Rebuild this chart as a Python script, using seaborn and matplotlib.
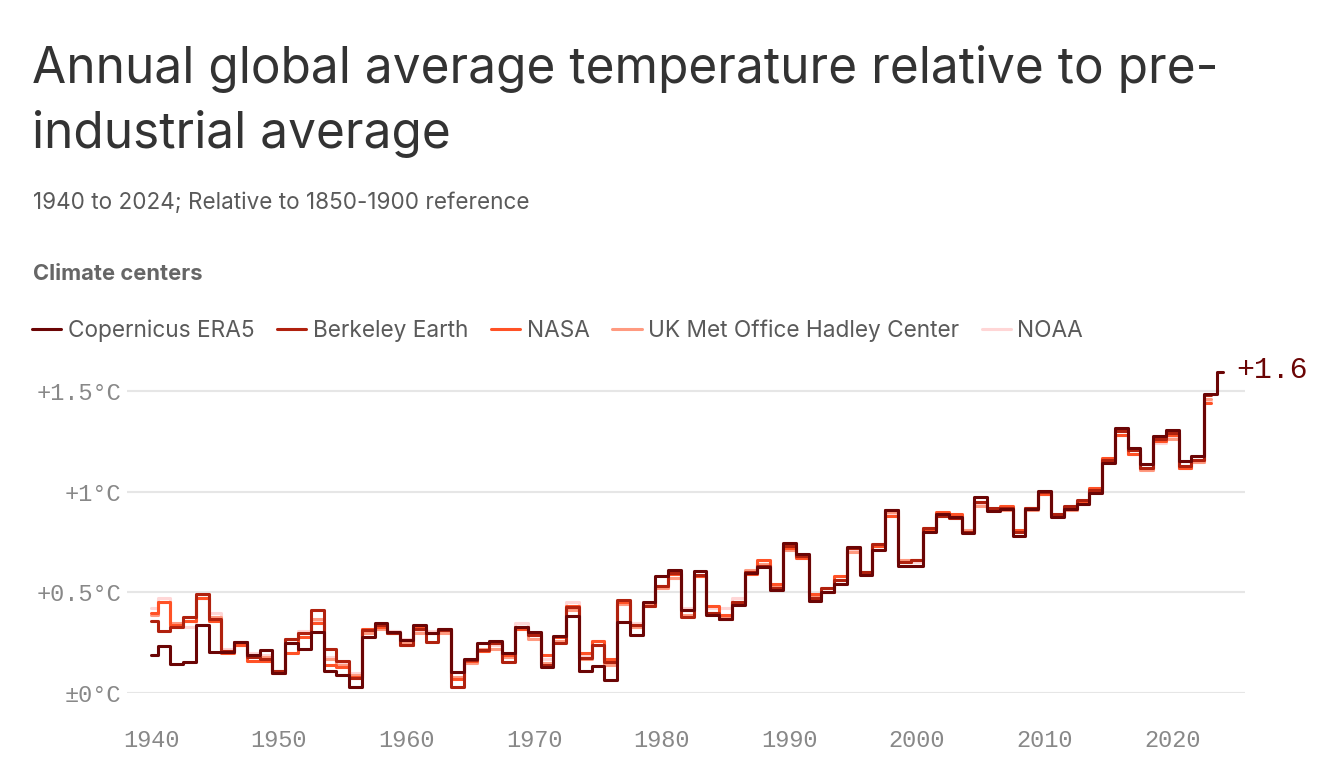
import pandas as pd
import numpy as np
import matplotlib
matplotlib.use("Agg")
import matplotlib.pyplot as plt
from matplotlib.lines import Line2D
import seaborn as sns

# ---- data (°C above 1850-1900 average) ----
years = list(range(1940, 2025))

era5 = [0.19, 0.235, 0.143, 0.153, 0.34, 0.205, 0.205, 0.255, 0.19, 0.214,
        0.10, 0.25, 0.22, 0.305, 0.11, 0.09, 0.028, 0.28, 0.346, 0.305,
        0.263, 0.34, 0.296, 0.318, 0.106, 0.169, 0.247, 0.258, 0.197, 0.326,
        0.305, 0.131, 0.283, 0.384, 0.111, 0.134, 0.065, 0.354, 0.29, 0.45,
        0.58, 0.61, 0.41, 0.607, 0.387, 0.37, 0.437, 0.595, 0.627, 0.51,
        0.743, 0.69, 0.459, 0.503, 0.54, 0.727, 0.586, 0.71, 0.909, 0.631,
        0.631, 0.80, 0.889, 0.873, 0.793, 0.972, 0.906, 0.913, 0.78, 0.913,
        1.005, 0.876, 0.913, 0.939, 0.992, 1.141, 1.315, 1.22, 1.138, 1.277,
        1.306, 1.154, 1.177, 1.484, 1.596]

berkeley = [0.36, 0.31, 0.326, 0.38, 0.49, 0.37, 0.21, 0.255, 0.18, 0.17,
            0.107, 0.27, 0.30, 0.41, 0.22, 0.159, 0.073, 0.313, 0.338, 0.296,
            0.238, 0.32, 0.255, 0.313, 0.03, 0.164, 0.214, 0.247, 0.156, 0.33,
            0.288, 0.139, 0.25, 0.426, 0.172, 0.238, 0.156, 0.462, 0.338, 0.43,
            0.53, 0.595, 0.38, 0.586, 0.396, 0.37, 0.45, 0.60, 0.63, 0.52,
            0.73, 0.68, 0.47, 0.52, 0.56, 0.72, 0.60, 0.74, 0.91, 0.65,
            0.66, 0.82, 0.88, 0.87, 0.80, 0.95, 0.92, 0.92, 0.80, 0.92,
            1.00, 0.89, 0.93, 0.96, 1.01, 1.16, 1.30, 1.21, 1.12, 1.26,
            1.29, 1.13, 1.16, 1.48]

nasa = [0.40, 0.45, 0.34, 0.36, 0.47, 0.36, 0.20, 0.24, 0.16, 0.16,
        0.10, 0.20, 0.28, 0.35, 0.14, 0.13, 0.08, 0.32, 0.33, 0.30,
        0.24, 0.33, 0.30, 0.32, 0.07, 0.16, 0.21, 0.25, 0.19, 0.32,
        0.30, 0.19, 0.28, 0.43, 0.20, 0.26, 0.17, 0.45, 0.34, 0.43,
        0.53, 0.59, 0.41, 0.58, 0.43, 0.39, 0.45, 0.59, 0.66, 0.54,
        0.72, 0.67, 0.49, 0.50, 0.58, 0.72, 0.60, 0.73, 0.88, 0.65,
        0.66, 0.81, 0.90, 0.89, 0.80, 0.95, 0.91, 0.93, 0.81, 0.92,
        0.99, 0.88, 0.92, 0.95, 1.02, 1.17, 1.28, 1.19, 1.12, 1.25,
        1.28, 1.12, 1.16, 1.44]

hadley = [0.39, 0.45, 0.35, 0.36, 0.47, 0.38, 0.21, 0.24, 0.19, 0.18,
          0.11, 0.27, 0.30, 0.37, 0.17, 0.14, 0.09, 0.30, 0.32, 0.30,
          0.25, 0.30, 0.30, 0.30, 0.08, 0.15, 0.22, 0.22, 0.18, 0.32,
          0.27, 0.15, 0.26, 0.41, 0.17, 0.24, 0.14, 0.44, 0.33, 0.44,
          0.52, 0.57, 0.39, 0.58, 0.40, 0.38, 0.45, 0.61, 0.64, 0.53,
          0.71, 0.68, 0.48, 0.50, 0.56, 0.70, 0.59, 0.73, 0.90, 0.66,
          0.66, 0.82, 0.88, 0.88, 0.81, 0.93, 0.91, 0.91, 0.80, 0.91,
          0.99, 0.88, 0.91, 0.94, 1.00, 1.16, 1.28, 1.19, 1.11, 1.25,
          1.26, 1.12, 1.15, 1.46]

noaa = [0.42, 0.47, 0.34, 0.33, 0.47, 0.40, 0.22, 0.24, 0.20, 0.19,
        0.11, 0.25, 0.31, 0.36, 0.18, 0.15, 0.10, 0.32, 0.32, 0.31,
        0.27, 0.31, 0.31, 0.31, 0.08, 0.15, 0.21, 0.24, 0.18, 0.35,
        0.29, 0.17, 0.26, 0.45, 0.19, 0.26, 0.16, 0.44, 0.35, 0.44,
        0.52, 0.57, 0.42, 0.58, 0.42, 0.42, 0.47, 0.59, 0.64, 0.54,
        0.71, 0.67, 0.48, 0.52, 0.56, 0.71, 0.59, 0.74, 0.89, 0.66,
        0.65, 0.82, 0.88, 0.88, 0.81, 0.94, 0.91, 0.91, 0.80, 0.92,
        0.99, 0.88, 0.91, 0.95, 1.00, 1.15, 1.28, 1.19, 1.11, 1.24,
        1.27, 1.12, 1.15, 1.45]

series_names = ["Copernicus ERA5", "Berkeley Earth", "NASA",
                "UK Met Office Hadley Center", "NOAA"]
series_values = [era5, berkeley, nasa, hadley, noaa]
series_colors = ["#6b0505", "#b0210e", "#ff5226", "#ff9a80", "#ffd6d6"]

ytick_vals = [0, 0.5, 1, 1.5]
ytick_labels = ["±0°C", "+0.5°C", "+1°C", "+1.5°C"]
xtick_vals = list(range(1940, 2030, 10))

# long table for seaborn
frames = []
for name, vals in zip(series_names, series_values):
    frames.append(pd.DataFrame({"year": years[:len(vals)], "temp": vals, "center": name}))
df = pd.concat(frames, ignore_index=True)

# ---- figure ----
sns.set_theme(style="white")
plt.rcParams["font.family"] = ["Inter", "DejaVu Sans"]

fig = plt.figure(figsize=(13.44, 7.84), dpi=100)
ax = fig.add_axes([127 / 1344, 1 - 693 / 784, (1245 - 127) / 1344, 0.4158])

# draw lightest first so ERA5 sits on top
for name, color in list(zip(series_names, series_colors))[::-1]:
    sub = df[df["center"] == name]
    sns.lineplot(data=sub, x="year", y="temp", ax=ax, color=color,
                 linewidth=2.2, drawstyle="steps-mid", legend=False,
                 errorbar=None, clip_on=False)

ax.set_xlim(1938.1, 2025.7)
ax.set_ylim(0, 1.62)
ax.set_xlabel("")
ax.set_ylabel("")

mono = "Liberation Mono"
ax.set_yticks(ytick_vals)
ax.set_yticklabels(ytick_labels, fontfamily=mono, fontsize=17, color="#888888")
ax.set_xticks(xtick_vals)
ax.set_xticklabels([str(v) for v in xtick_vals], fontfamily=mono, fontsize=17, color="#888888")
ax.tick_params(axis="y", length=0, pad=4)
ax.tick_params(axis="x", length=19, width=1.5, color="#e2e2e2", pad=7)

ax.grid(axis="y", color="#e6e6e6", linewidth=1.5)
ax.grid(axis="x", visible=False)
for s in ax.spines.values():
    s.set_visible(False)
ax.set_axisbelow(True)

# end label
ax.annotate("+1.6", xy=(years[-1], era5[-1]), xytext=(9, 1),
            textcoords="offset points", fontfamily=mono, fontsize=21.5,
            color=series_colors[0], va="center", ha="left", annotation_clip=False)

# ---- header texts ----
fig.text(32 / 1344, 1 - 45 / 784,
         "Annual global average temperature relative to pre-\nindustrial average",
         fontsize=35.7, color="#333333", va="top", ha="left", linespacing=1.45)
fig.text(33 / 1344, 1 - 203 / 784, "1940 to 2024; Relative to 1850-1900 reference",
         fontsize=16.2, color="#5a5a5a", va="center", ha="left")
fig.text(33 / 1344, 1 - 274 / 784, "Climate centers", fontsize=15.8,
         fontweight="bold", color="#666666", va="center", ha="left")

handles = [Line2D([0], [0], color=c, linewidth=2.2) for c in series_colors]
fig.legend(handles, series_names, loc="center left",
           bbox_to_anchor=(32 / 1344, 1 - 331 / 784), ncol=5, frameon=False,
           borderpad=0, borderaxespad=0, handlelength=1.3, handletextpad=0.28,
           columnspacing=1.0, prop={"size": 16.3},
           labelcolor="#5a5a5a")

fig.savefig("out.png", dpi=100)
